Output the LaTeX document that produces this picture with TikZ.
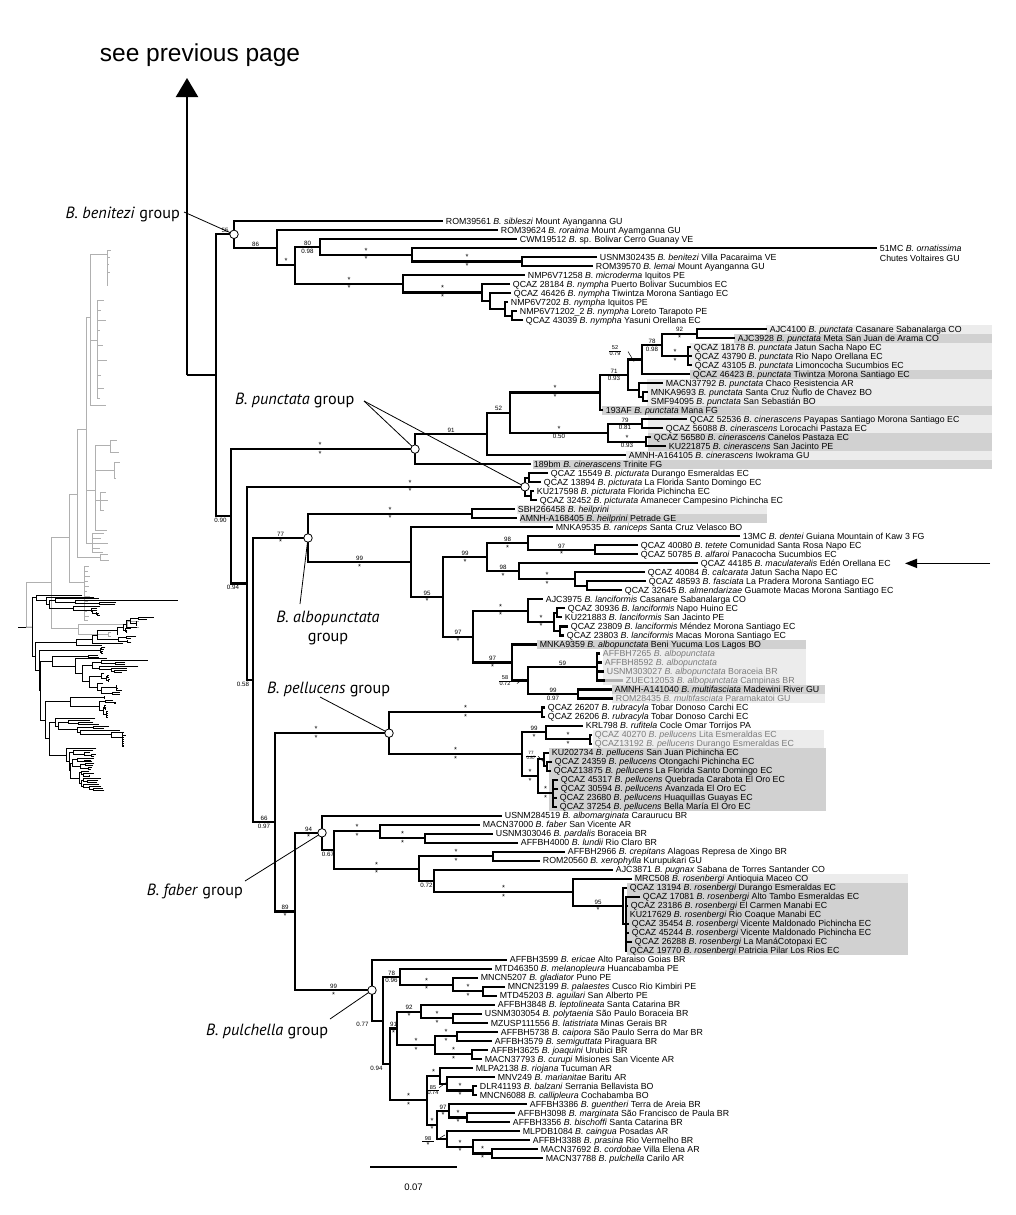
\documentclass[tikz,border=0pt]{standalone}
\usepackage{fontspec}
\setmainfont{Liberation Sans}
\newfontfamily\grpfont{PT Sans}
\usetikzlibrary{calc,arrows.meta}
\definecolor{lbox}{HTML}{ECECEC}
\definecolor{dbox}{HTML}{D1D1D1}
\definecolor{gtxt}{HTML}{7C7C7C}
\definecolor{gbr}{HTML}{B0B0B0}
\newcommand\Sp[1]{\textit{#1}}
\newcommand\stt{{\fontsize{7.5}{7.5}\selectfont *}}
\newcommand\tp[3]{\coordinate (#1) at (#2,{221+9.01*#3});}
\newcommand\nd[4]{%
  \coordinate (X#1) at (#2,0);%
  \coordinate (M#1) at ($(#3)!.5!(#4)$);%
  \coordinate (#1) at (X#1 |- M#1);%
  \draw[br] (#3) -| (#1);%
  \draw[br] (#4) -| (#1);}
\newcommand\ndm[5]{%
  \nd{#1}{#2}{#3}{#4}%
  \foreach \ch in {#5} {\draw[br] (\ch) -| (#1);}}
\newcommand\lab[5][0]{%
  \coordinate (C#2) at ($(#2)!.5!(#3 |- #2)+(#1,0)$);%
  \node[sa,anchor=south] (U#2) at ($(C#2)+(0,-1.1)$) {#4};%
  \node[sa,anchor=north] (D#2) at ($(C#2)+(0,1.3)$) {#5};}
\newcommand\sst[3][0]{\lab[#1]{#2}{#3}{\stt}{\stt}}
\newcommand\tl[2]{\node[tl] (l#1) at (t#1) {#2};}
\newcommand\tlg[2]{\node[tl,text=gtxt] (l#1) at (t#1) {#2};}
\newcommand\bx[5]{\fill[#5] (#1,{221+9.01*#3-4.4}) rectangle (#2,{221+9.01*#4+4.4});}

\newcommand\treebody{%
\tp{t0}{443}{0}\tp{t1}{498}{1}\tp{t2}{517}{2}\tp{t3}{877}{3}%
\tp{t4}{597}{4}\tp{t5}{593}{5}\tp{t6}{525}{6}\tp{t7}{510}{7}%
\tp{t8}{511}{8}\tp{t9}{508}{9}\tp{t10}{517}{10}\tp{t11}{523}{11}%
\nd{nBL}{522}{t4}{t5}\nd{nO}{412}{t3}{nBL}\nd{n80}{320}{t2}{nO}%
\nd{nN4}{512}{t10}{t11}\nd{nN3}{505}{t9}{nN4}\nd{nN2}{490}{t8}{nN3}%
\nd{nN1}{482}{t7}{nN2}\nd{nM}{403}{t6}{nN1}\nd{n95}{295}{n80}{nM}%
\nd{n86}{277}{t1}{n95}\nd{nB}{234}{t0}{n86}%
\tp{t12}{767}{12}\tp{t13}{735}{13}\tp{t14}{691}{14}\tp{t15}{692}{15}\tp{t16}{692}{16}%
\tp{t17}{690}{17}\tp{t18}{663}{18}\tp{t19}{648}{19}\tp{t20}{648}{20}\tp{t21}{603}{21}%
\tp{t22}{687}{22}\tp{t23}{663}{23}\tp{t24}{651}{24}\tp{t25}{666}{25}\tp{t26}{626}{26}\tp{t27}{531}{27}%
\nd{P92}{697}{t12}{t13}\ndm{Pq}{688}{t14}{t16}{t15}\nd{Pc}{662}{P92}{Pq}%
\nd{Pb}{642}{Pc}{t17}\nd{Pn}{643}{t19}{t20}\nd{Pm}{639}{t18}{Pn}%
\nd{Pa}{628}{Pb}{Pm}\nd{Ppu}{600}{Pa}{t21}%
\nd{C79}{642}{t22}{t23}\nd{C93}{646}{t24}{t25}\nd{Pci}{608}{C79}{C93}%
\nd{P52}{510}{Ppu}{Pci}\nd{P91}{487}{P52}{t26}\nd{P0}{415}{P91}{t27}%
\tp{t28}{548}{28}\tp{t29}{541}{29}\tp{t30}{534}{30}\tp{t31}{537}{31}%
\nd{PicA}{529}{t28}{t29}\nd{PicB}{531}{t30}{t31}\nd{Pic}{525}{PicA}{PicB}%
\tp{t32}{515}{32}\tp{t33}{517}{33}\nd{Ah}{472}{t32}{t33}%
\tp{t34}{553}{34}\tp{t35}{740}{35}\tp{t36}{638}{36}\tp{t37}{638}{37}%
\nd{A97a}{595}{t36}{t37}\nd{A98a}{528}{t35}{A97a}%
\tp{t38}{698}{38}\tp{t39}{645}{39}\tp{t40}{646}{40}\tp{t41}{622}{41}%
\nd{Afas}{587}{t40}{t41}\nd{Acal}{575}{t39}{Afas}\nd{A98b}{519}{t38}{Acal}%
\nd{A99b}{487}{A98a}{A98b}%
\tp{t42}{543}{42}\tp{t43}{565}{43}\tp{t44}{562}{44}\tp{t45}{568}{45}\tp{t46}{564}{46}%
\nd{L1}{557}{t43}{t44}\nd{L2}{560}{t45}{t46}\nd{Alan2}{554}{L1}{L2}\nd{Alan}{528}{t42}{Alan2}%
\tp{t47}{537}{47}\tp{t48}{600}{48}\tp{t49}{602}{49}\tp{t50}{604}{50}\tp{t51}{623}{51}%
\ndm{A59}{597}{t48}{t51}{t49,t50}%
\tp{t52}{612}{52}\tp{t53}{613}{53}\nd{A99c}{578}{t52}{t53}%
\nd{A58}{528}{A59}{A99c}\nd{A97b}{512}{t47}{A58}\nd{A97}{473}{Alan}{A97b}%
\nd{A95}{443}{A99b}{A97}\nd{A99}{411}{t34}{A95}\nd{Aalb}{308}{Ah}{A99}%
\tp{t54}{545}{54}\tp{t55}{545}{55}\nd{Rub}{542}{t54}{t55}%
\tp{t56}{583}{56}\tp{t57}{592}{57}\tp{t58}{592}{58}\nd{Pl2}{590}{t57}{t58}\nd{P99}{546}{t56}{Pl2}%
\tp{t59}{549}{59}\tp{t60}{552}{60}\tp{t61}{551}{61}\nd{PelE}{547}{t60}{t61}\nd{PelC}{544}{t59}{PelE}%
\tp{t62}{558}{62}\tp{t63}{558}{63}\tp{t64}{557}{64}\tp{t65}{557}{65}\ndm{PelD}{553}{t62}{t65}{t63,t64}%
\nd{PelB}{538}{PelC}{PelD}\nd{Pel}{522}{P99}{PelB}\nd{Ppel}{389}{Rub}{Pel}%
\tp{t66}{502}{66}\tp{t67}{480}{67}\tp{t68}{493}{68}\tp{t69}{518}{69}%
\nd{Fd}{425}{t68}{t69}\nd{Fc}{380}{t67}{Fd}%
\tp{t70}{565}{70}\tp{t71}{540}{71}\nd{Ff}{493}{t70}{t71}%
\tp{t72}{613}{72}\tp{t73}{632}{73}\tp{t74}{627}{74}\tp{t75}{640}{75}\tp{t76}{628}{76}%
\tp{t77}{627}{77}\tp{t78}{629}{78}\tp{t79}{629}{79}\tp{t80}{632}{80}\tp{t81}{627}{81}%
\ndm{Fr2}{626}{t75}{t81}{t76,t77,t78,t79,t80}\nd{Fr}{623}{t74}{Fr2}%
\nd{Fh}{573}{t73}{Fr}\nd{Fg}{434}{t72}{Fh}\nd{Fe}{419}{Ff}{Fg}%
\nd{Fb}{334}{Fc}{Fe}\nd{Ffab}{322}{t66}{Fb}%
\tp{t82}{507}{82}\tp{t83}{492}{83}\tp{t84}{478}{84}\tp{t85}{505}{85}\tp{t86}{497}{86}%
\nd{Qh}{483}{t85}{t86}\nd{Qg}{453}{t84}{Qh}\nd{Q78}{400}{t83}{Qg}%
\tp{t87}{495}{87}\tp{t88}{482}{88}\tp{t89}{488}{89}\nd{Qi}{453}{t88}{t89}\nd{Q92}{421}{t87}{Qi}%
\tp{t90}{498}{90}\tp{t91}{492}{91}\nd{Qd}{457}{t90}{t91}%
\tp{t92}{488}{92}\tp{t93}{482}{93}\nd{Qe}{472}{t92}{t93}\nd{Qc}{435}{Qd}{Qe}%
\nd{Q91}{397}{Q92}{Qc}%
\tp{t94}{473}{94}\tp{t95}{495}{95}\tp{t96}{477}{96}\tp{t97}{477}{97}%
\nd{Qw}{473}{t96}{t97}\nd{Qv}{447}{t95}{Qw}\nd{Qt}{440}{t94}{Qv}%
\tp{t98}{527}{98}\tp{t99}{515}{99}\tp{t100}{510}{100}\nd{Qx}{467}{t99}{t100}\nd{Q97}{449}{t98}{Qx}%
\tp{t101}{520}{101}\tp{t102}{530}{102}\tp{t103}{538}{103}\tp{t104}{543}{104}%
\nd{Qz}{492}{t103}{t104}\nd{Qy}{473}{t102}{Qz}\nd{Q98}{447}{t101}{Qy}%
\nd{Qu}{437}{Q97}{Q98}\nd{Qs}{427}{Qt}{Qu}\nd{Qb}{390}{Q91}{Qs}%
\nd{Qa}{383}{Q78}{Qb}\nd{Qpul}{372}{t82}{Qa}%
\nd{N6}{295}{Ffab}{Qpul}\nd{N5}{275}{Ppel}{N6}\nd{N4}{253}{Aalb}{N5}%
\nd{N3}{247}{Pic}{N4}\nd{N2}{231}{P0}{N3}\nd{N1}{216}{nB}{N2}%
\coordinate (Rx) at (187,0);\coordinate (R) at (Rx |- N1);\draw[br] (N1) -- (R);%
}

\tikzset{
 br/.style={line width=2.1pt},
 tl/.style={anchor=base west, inner sep=0.5pt, xshift=2.2pt, yshift=-3.1pt, font=\fontsize{8.8}{9}\selectfont},
 sa/.style={inner sep=0.3pt, font=\fontsize{6.2}{6.2}\selectfont},
 gc/.style={circle, draw, fill=white, line width=0.8pt, inner sep=0pt, minimum size=8.5pt},
 gl/.style={font=\grpfont\fontsize{16.2}{18}\selectfont, inner sep=0pt},
 ld/.style={line width=0.8pt},
 fr/.style={inner sep=0.3pt, font=\fontsize{5.6}{5.6}\selectfont},
}

\begin{document}
\begin{tikzpicture}[x=1pt,y=-1pt]
\fill[white] (0,0) rectangle (1015,1215);
\useasboundingbox (0,0) rectangle (1015,1215);

% ---------- thumbnail of whole tree ----------
\draw[gbr, line width=0.8pt]
 (26,582) -- (26,627)
 (26,582) -- (51,582) (51,537) -- (51,628)
 (51,628) -- (78,628) (78,624) -- (78,634) (78,624) -- (127,624)
 (127,621) -- (127,627) (127,621) -- (139,621) (127,627) -- (139,627)
 (78,634) -- (108,634) (108,632) -- (108,636) (108,632) -- (111,632) (108,636) -- (111,636)
 (51,537) -- (69,537) (69,494) -- (69,582)
 (69,582) -- (84,582) (84,566) -- (84,620)
 (84,566) -- (89,566) (84,571) -- (88,571) (84,576) -- (90,576) (84,581) -- (88,581)
 (84,586) -- (89,586) (84,591) -- (87,591) (84,596) -- (90,596) (84,601) -- (88,601)
 (84,606) -- (89,606) (84,611) -- (87,611) (84,616) -- (89,616) (84,620) -- (88,620)
 (69,494) -- (77,494) (77,429) -- (77,557)
 (77,557) -- (100,557) (100,554) -- (100,560) (100,554) -- (108,554) (100,560) -- (109,560)
 (77,429) -- (86,429) (86,317) -- (86,543)
 (86,543) -- (92,543) (92,533) -- (92,552)
 (92,533) -- (104,533) (92,538) -- (101,538) (92,543) -- (108,543) (92,548) -- (100,548) (92,552) -- (103,552)
 (86,490) -- (95,490) (95,445) -- (95,530)
 (95,445) -- (110,445) (110,440) -- (110,452) (110,440) -- (117,440) (110,452) -- (119,452)
 (95,470) -- (114,470) (114,462) -- (114,478) (114,462) -- (120,462) (114,478) -- (116,478)
 (95,500) -- (100,500) (100,492) -- (100,510) (100,492) -- (106,492) (100,500) -- (108,500) (100,510) -- (104,510)
 (95,530) -- (107,530)
 (86,317) -- (90,317) (90,254) -- (90,405)
 (90,254) -- (107,254) (107,250) -- (107,285)
 (107,250) -- (111,250) (107,257) -- (110,257) (107,264) -- (109,264) (107,272) -- (110,272) (107,285) -- (108,285)
 (90,340) -- (97,340) (97,300) -- (97,398)
 (97,300) -- (104,300) (97,310) -- (101,310) (97,320) -- (106,320) (97,330) -- (100,330)
 (97,345) -- (103,345) (97,360) -- (107,360) (97,375) -- (101,375) (97,388) -- (104,388) (97,398) -- (100,398)
 (90,405) -- (106,405);
\draw[line width=0.7pt] (18,627) -- (26,627);
\begin{scope}[shift={(-15.14,549.03)}, xscale=0.22, yscale=0.208]
 \tikzset{br/.style={line width=0.6pt}}
 \treebody
\end{scope}

% ---------- shaded label boxes ----------
\bx{766}{992}{12}{12}{lbox}
\bx{734}{992}{13}{13}{dbox}
\bx{690}{992}{14}{16}{lbox}
\bx{690}{992}{17}{17}{dbox}
\bx{647}{992}{18}{20}{lbox}
\bx{602}{992}{21}{21}{dbox}
\bx{648}{992}{22}{23}{lbox}
\bx{648}{992}{24}{25}{dbox}
\bx{626}{992}{26}{26}{lbox}
\bx{533}{992}{27}{27}{dbox}
\bx{517}{767}{32}{32}{lbox}
\bx{520}{767}{33}{33}{dbox}
\bx{537}{806}{47}{47}{dbox}
\bx{603}{806}{48}{51}{lbox}
\bx{612}{825}{52}{52}{dbox}
\bx{612}{825}{53}{53}{lbox}
\bx{593}{824}{57}{58}{lbox}
\bx{549}{826}{59}{65}{dbox}
\bx{634}{908}{73}{73}{lbox}
\bx{627}{908}{74}{81}{dbox}

% ---------- main tree ----------
\treebody
\coordinate (zg) at ($(t51)+(-18,0)$);
\draw[br,gbr] (zg) -- (t51);

% arrow to previous page
\coordinate (arrT) at (187,78);
\draw[line width=2.1pt,-{Triangle[width=22pt,length=19pt]}] (R) -- (arrT);
\node[font=\fontsize{24.5}{26}\selectfont, inner sep=0pt] (title) at (200,55) {see previous page};

% ---------- support values ----------
\lab{nB}{N1}{55}{}
\lab{n86}{nB}{86}{}
\lab{n95}{n86}{\stt}{}
\lab{n80}{n95}{80}{0.98}
\sst{nO}{n80}
\sst{nBL}{nO}
\sst{nM}{n95}
\sst{nN1}{nM}
\sst[-3]{P0}{N2}
\lab{P91}{P0}{91}{}
\lab{P52}{P91}{52}{}
\sst{Ppu}{P52}
\lab{Pci}{P52}{\stt}{0.50}
\lab{Pa}{Ppu}{71}{0.93}
\lab{Pc}{Pb}{78}{0.98}
\lab{P92}{Pc}{92}{\stt}
\sst{Pq}{Pc}
\lab{C79}{Pci}{79}{0.81}
\lab{C93}{Pci}{\stt}{0.93}
\sst[24]{Pic}{N3}
\lab[-3]{N2}{N1}{}{0.90}
\lab[-6]{N3}{N2}{}{0.94}
\lab[-7]{N4}{N3}{}{0.58}
\lab{N5}{N4}{66}{0.97}
\lab{N6}{N5}{89}{\stt}
\lab{Aalb}{N4}{77}{\stt}
\sst{Ah}{Aalb}
\lab{A99}{Aalb}{99}{\stt}
\lab{A95}{A99}{95}{\stt}
\lab{A99b}{A95}{99}{\stt}
\lab{A98a}{A99b}{98}{\stt}
\lab{A97a}{A98a}{97}{\stt}
\lab{A98b}{A99b}{98}{\stt}
\sst{Acal}{A98b}
\lab{A97}{A95}{97}{\stt}
\sst{Alan}{A97}
\sst{Alan2}{Alan}
\lab{A97b}{A97}{97}{\stt}
\lab{A59}{A58}{59}{}
\lab{A99c}{A58}{99}{0.97}
\sst[-16]{Ppel}{N5}
\sst{Rub}{Ppel}
\sst{Pel}{Ppel}
\lab{P99}{Pel}{99}{\stt}
\sst{Pl2}{P99}
\sst{PelB}{Pel}
\sst{PelD}{PelB}
\lab{Ffab}{N6}{94}{\stt}
\lab{Fb}{Ffab}{}{0.67}
\sst{Fc}{Fb}
\sst{Fd}{Fc}
\sst{Fe}{Fb}
\sst{Ff}{Fe}
\lab{Fg}{Fe}{}{0.72}
\sst{Fh}{Fg}
\lab{Fr}{Fh}{95}{\stt}
\lab{Qpul}{N6}{99}{\stt}
\lab[-15]{Qa}{Qpul}{}{0.77}
\lab{Q78}{Qa}{78}{0.96}
\sst{Qg}{Q78}
\sst{Qh}{Qg}
\lab[-10]{Qb}{Qa}{}{0.94}
\lab{Q91}{Qb}{91}{\stt}
\lab{Q92}{Q91}{92}{\stt}
\sst{Qi}{Q92}
\sst{Qc}{Q91}
\sst{Qd}{Qc}
\sst{Qe}{Qc}
\sst{Qs}{Qb}
\lab{Qt}{Qs}{\stt}{}
\sst{Qw}{Qv}
\sst{Qu}{Qs}
\lab{Q97}{Qu}{97}{\stt}
\sst{Qx}{Q97}
\sst{Qy}{Q98}
\sst{Qz}{Qy}

% fraction-style labels with leaders
\coordinate (fPb) at ($(Pb)+(-27,-9)$);
\node[fr,anchor=south] (fPbU) at (fPb) {52};
\node[fr,anchor=north] (fPbD) at ($(fPb)+(0,0.8)$) {0.79};
\draw[line width=0.4pt] ($(fPb)+(-6,0.4)$) -- ($(fPb)+(6,0.4)$);
\draw[line width=0.5pt] ($(Pb)+(-14,-8)$) -- ($(Pb)+(-8,2)$);
\coordinate (fA58) at ($(A58)+(-23,0)$);
\node[fr,anchor=south] (fA58U) at (fA58) {58};
\node[fr,anchor=north] (fA58D) at ($(fA58)+(0,0.8)$) {0.72};
\draw[line width=0.4pt] ($(fA58)+(-6,0.4)$) -- ($(fA58)+(6,0.4)$);
\draw[line width=0.5pt] ($(A58)+(-11,3)$) -- ($(A58)+(-5,-1.5)$);
\coordinate (fPelC) at ($(PelC)+(-13,-4)$);
\node[fr,anchor=south,font=\fontsize{4.6}{4.6}\selectfont] (fPelCU) at (fPelC) {77};
\node[fr,anchor=north,font=\fontsize{4.6}{4.6}\selectfont] (fPelCD) at ($(fPelC)+(0,0.7)$) {0.87};
\draw[line width=0.3pt] ($(fPelC)+(-5,0.35)$) -- ($(fPelC)+(5,0.35)$);
\draw[line width=0.5pt] ($(PelC)+(-6,-3)$) -- ($(PelC)+(-1,2)$);
\coordinate (fQv) at ($(Qv)+(-14,6)$);
\node[fr,anchor=south] (fQvU) at (fQv) {85};
\node[fr,anchor=north] (fQvD) at ($(fQv)+(0,0.8)$) {0.74};
\draw[line width=0.4pt] ($(fQv)+(-6,0.4)$) -- ($(fQv)+(6,0.4)$);
\draw[line width=0.5pt] ($(Qv)+(-8,4)$) -- ($(Qv)+(-1,-1)$);
\coordinate (fQ98) at ($(Q98)+(-19,2)$);
\node[fr,anchor=south] (fQ98U) at (fQ98) {98};
\node[sa,anchor=north] (fQ98D) at ($(fQ98)+(0,1)$) {\stt};
\draw[line width=0.4pt] ($(fQ98)+(-6,0.4)$) -- ($(fQ98)+(6,0.4)$);
\draw[line width=0.5pt] ($(Q98)+(-10,1)$) -- ($(Q98)+(-2,-4)$);

% ---------- tip labels ----------
\tl{0}{ROM39561 \Sp{B. sibleszi} Mount Ayanganna GU}
\tl{1}{ROM39624 \Sp{B. roraima} Mount Ayamganna GU}
\tl{2}{CWM19512 \Sp{B.} sp. Bolivar Cerro Guanay VE}
\tl{3}{51MC \Sp{B. ornatissima}}
\node[tl] (l3b) at ($(t3)+(0,10)$) {Chutes Voltaires GU};
\tl{4}{USNM302435 \Sp{B. benitezi} Villa Pacaraima VE}
\tl{5}{ROM39570 \Sp{B. lemai} Mount Ayanganna GU}
\tl{6}{NMP6V71258 \Sp{B. microderma} Iquitos PE}
\tl{7}{QCAZ 28184 \Sp{B. nympha} Puerto Bolivar Sucumbios EC}
\tl{8}{QCAZ 46426 \Sp{B. nympha} Tiwintza Morona Santiago EC}
\tl{9}{NMP6V7202 \Sp{B. nympha} Iquitos PE}
\tl{10}{NMP6V71202\_2 \Sp{B. nympha} Loreto Tarapoto PE}
\tl{11}{QCAZ 43039 \Sp{B. nympha} Yasuni Orellana EC}
\tl{12}{AJC4100 \Sp{B. punctata} Casanare Sabanalarga CO}
\tl{13}{AJC3928 \Sp{B. punctata} Meta San Juan de Arama CO}
\tl{14}{QCAZ 18178 \Sp{B. punctata} Jatun Sacha Napo EC}
\tl{15}{QCAZ 43790 \Sp{B. punctata} Rio Napo Orellana EC}
\tl{16}{QCAZ 43105 \Sp{B. punctata} Limoncocha Sucumbios EC}
\tl{17}{QCAZ 46423 \Sp{B. punctata} Tiwintza Morona Santiago EC}
\tl{18}{MACN37792 \Sp{B. punctata} Chaco Resistencia AR}
\tl{19}{MNKA9693 \Sp{B. punctata} Santa Cruz Ñuflo de Chavez BO}
\tl{20}{SMF94095 \Sp{B. punctata} San Sebastián BO}
\tl{21}{193AF \Sp{B. punctata} Mana FG}
\tl{22}{QCAZ 52536 \Sp{B. cinerascens} Payapas Santiago Morona Santiago EC}
\tl{23}{QCAZ 56088 \Sp{B. cinerascens} Lorocachi Pastaza EC}
\tl{24}{QCAZ 56580 \Sp{B. cinerascens} Canelos Pastaza EC}
\tl{25}{KU221875 \Sp{B. cinerascens} San Jacinto PE}
\tl{26}{AMNH-A164105 \Sp{B. cinerascens} Iwokrama GU}
\tl{27}{189bm \Sp{B. cinerascens} Trinite FG}
\tl{28}{QCAZ 15549 \Sp{B. picturata} Durango Esmeraldas EC}
\tl{29}{QCAZ 13894 \Sp{B. picturata} La Florida Santo Domingo EC}
\tl{30}{KU217598 \Sp{B. picturata} Florida Pichincha EC}
\tl{31}{QCAZ 32452 \Sp{B. picturata} Amanecer Campesino Pichincha EC}
\tl{32}{SBH266458 \Sp{B. heilprini}}
\tl{33}{AMNH-A168405 \Sp{B. heilprini} Petrade GE}
\tl{34}{MNKA9535 \Sp{B. raniceps} Santa Cruz Velasco BO}
\tl{35}{13MC \Sp{B. dentei} Guiana Mountain of Kaw 3 FG}
\tl{36}{QCAZ 40080 \Sp{B. tetete} Comunidad Santa Rosa Napo EC}
\tl{37}{QCAZ 50785 \Sp{B. alfaroi} Panacocha Sucumbios EC}
\tl{38}{QCAZ 44185 \Sp{B. maculateralis} Edén Orellana EC}
\tl{39}{QCAZ 40084 \Sp{B. calcarata} Jatun Sacha Napo EC}
\tl{40}{QCAZ 48593 \Sp{B. fasciata} La Pradera Morona Santiago EC}
\tl{41}{QCAZ 32645 \Sp{B. almendarizae} Guamote Macas Morona Santiago EC}
\tl{42}{AJC3975 \Sp{B. lanciformis} Casanare Sabanalarga CO}
\tl{43}{QCAZ 30936 \Sp{B. lanciformis} Napo Huino EC}
\tl{44}{KU221883 \Sp{B. lanciformis} San Jacinto PE}
\tl{45}{QCAZ 23809 \Sp{B. lanciformis} Méndez Morona Santiago EC}
\tl{46}{QCAZ 23803 \Sp{B. lanciformis} Macas Morona Santiago EC}
\tl{47}{MNKA9359 \Sp{B. albopunctata} Beni Yucuma Los Lagos BO}
\tlg{48}{AFFBH7265 \Sp{B. albopunctata}}
\tlg{49}{AFFBH8592 \Sp{B. albopunctata}}
\tlg{50}{USNM303027 \Sp{B. albopunctata} Boraceia BR}
\tlg{51}{ZUEC12053 \Sp{B. albopunctata} Campinas BR}
\tl{52}{AMNH-A141040 \Sp{B. multifasciata} Madewini River GU}
\tlg{53}{ROM28435 \Sp{B. multifasciata} Paramakatoi GU}
\tl{54}{QCAZ 26207 \Sp{B. rubracyla} Tobar Donoso Carchi EC}
\tl{55}{QCAZ 26206 \Sp{B. rubracyla} Tobar Donoso Carchi EC}
\tl{56}{KRL798 \Sp{B. rufitela} Cocle Omar Torrijos PA}
\tlg{57}{QCAZ 40270 \Sp{B. pellucens} Lita Esmeraldas EC}
\tlg{58}{QCAZ13192 \Sp{B. pellucens} Durango Esmeraldas EC}
\tl{59}{KU202734 \Sp{B. pellucens} San Juan Pichincha EC}
\tl{60}{QCAZ 24359 \Sp{B. pellucens} Otongachi Pichincha EC}
\tl{61}{QCAZ13875 \Sp{B. pellucens} La Florida Santo Domingo EC}
\tl{62}{QCAZ 45317 \Sp{B. pellucens} Quebrada Carabota El Oro EC}
\tl{63}{QCAZ 30594 \Sp{B. pellucens} Avanzada El Oro EC}
\tl{64}{QCAZ 23680 \Sp{B. pellucens} Huaquillas Guayas EC}
\tl{65}{QCAZ 37254 \Sp{B. pellucens} Bella María El Oro EC}
\tl{66}{USNM284519 \Sp{B. albomarginata} Caraurucu BR}
\tl{67}{MACN37000 \Sp{B. faber} San Vicente AR}
\tl{68}{USNM303046 \Sp{B. pardalis} Boraceia BR}
\tl{69}{AFFBH4000 \Sp{B. lundii} Rio Claro BR}
\tl{70}{AFFBH2966 \Sp{B. crepitans} Alagoas Represa de Xingo BR}
\tl{71}{ROM20560 \Sp{B. xerophylla} Kurupukari GU}
\tl{72}{AJC3871 \Sp{B. pugnax} Sabana de Torres Santander CO}
\tl{73}{MRC508 \Sp{B. rosenbergi} Antioquia Maceo CO}
\tl{74}{QCAZ 13194 \Sp{B. rosenbergi} Durango Esmeraldas EC}
\tl{75}{QCAZ 17081 \Sp{B. rosenbergi} Alto Tambo Esmeraldas EC}
\tl{76}{QCAZ 23186 \Sp{B. rosenbergi} El Carmen Manabi EC}
\tl{77}{KU217629 \Sp{B. rosenbergi} Rio Coaque Manabi EC}
\tl{78}{QCAZ 35454 \Sp{B. rosenbergi} Vicente Maldonado Pichincha EC}
\tl{79}{QCAZ 45244 \Sp{B. rosenbergi} Vicente Maldonado Pichincha EC}
\tl{80}{QCAZ 26288 \Sp{B. rosenbergi} La ManáCotopaxi EC}
\tl{81}{QCAZ 19770 \Sp{B. rosenbergi} Patricia Pilar Los Rios EC}
\tl{82}{AFFBH3599 \Sp{B. ericae} Alto Paraiso Goias BR}
\tl{83}{MTD46350 \Sp{B. melanopleura} Huancabamba PE}
\tl{84}{MNCN5207 \Sp{B. gladiator} Puno PE}
\tl{85}{MNCN23199 \Sp{B. palaestes} Cusco Rio Kimbiri PE}
\tl{86}{MTD45203 \Sp{B. aguilari} San Alberto PE}
\tl{87}{AFFBH3848 \Sp{B. leptolineata} Santa Catarina BR}
\tl{88}{USNM303054 \Sp{B. polytaenia} São Paulo Boraceia BR}
\tl{89}{MZUSP111556 \Sp{B. latistriata} Minas Gerais BR}
\tl{90}{AFFBH5738 \Sp{B. caipora} São Paulo Serra do Mar BR}
\tl{91}{AFFBH3579 \Sp{B. semiguttata} Piraguara BR}
\tl{92}{AFFBH3625 \Sp{B. joaquini} Urubici BR}
\tl{93}{MACN37793 \Sp{B. curupi} Misiones San Vicente AR}
\tl{94}{MLPA2138 \Sp{B. riojana} Tucuman AR}
\tl{95}{MNV249 \Sp{B. marianitae} Baritu AR}
\tl{96}{DLR41193 \Sp{B. balzani} Serrania Bellavista BO}
\tl{97}{MNCN6088 \Sp{B. callipleura} Cochabamba BO}
\tl{98}{AFFBH3386 \Sp{B. guentheri} Terra de Areia BR}
\tl{99}{AFFBH3098 \Sp{B. marginata} São Francisco de Paula BR}
\tl{100}{AFFBH3356 \Sp{B. bischoffi} Santa Catarina BR}
\tl{101}{MLPDB1084 \Sp{B. caingua} Posadas AR}
\tl{102}{AFFBH3388 \Sp{B. prasina} Rio Vermelho BR}
\tl{103}{MACN37692 \Sp{B. cordobae} Villa Elena AR}
\tl{104}{MACN37788 \Sp{B. pulchella} Carilo AR}

% arrow to B. maculateralis
\coordinate (mAx) at (990,0); \coordinate (mA) at (mAx |- t38);
\coordinate (mBx) at (905,0); \coordinate (mB) at (mBx |- t38);
\draw[line width=1.6pt,-{Triangle[width=9pt,length=12pt]}] (mA) -- (mB);

% ---------- group labels ----------
\node[gl,anchor=base east] (gBen) at (180,218.5) {\textit{B. benitezi} group};
\node[gl,anchor=base west] (gPun) at (235,404) {\textit{B. punctata} group};
\node[gl,anchor=base] (gAlb1) at (328,622) {\textit{B. albopunctata}};
\node[gl,anchor=base] (gAlb2) at (328,641) {group};
\node[gl,anchor=base west] (gPel) at (267,693) {\textit{B. pellucens} group};
\node[gl,anchor=base east] (gFab) at (243,895) {\textit{B. faber} group};
\node[gl,anchor=base west] (gPul) at (206,1035) {\textit{B. pulchella} group};
\coordinate (kBen) at (184,212);
\coordinate (kPun) at (364,401);
\coordinate (kAlb) at (300,604);
\coordinate (kPel) at (320,697);
\coordinate (kFab) at (245,881);
\coordinate (kPul) at (330,1019);
\draw[ld] (kBen) -- (nB);
\draw[ld] (kPun) -- (P0);
\draw[ld] (kPun) -- (Pic);
\draw[ld] (kAlb) -- (Aalb);
\draw[ld] (kPel) -- (Ppel);
\draw[ld] (kFab) -- (Ffab);
\draw[ld] (kPul) -- (Qpul);
\node[gc] (cBen) at (nB) {};
\node[gc] (cPun) at (P0) {};
\node[gc] (cPic) at (Pic) {};
\node[gc] (cAlb) at (Aalb) {};
\node[gc] (cPel) at (Ppel) {};
\node[gc] (cFab) at (Ffab) {};
\node[gc] (cPul) at (Qpul) {};

% ---------- scale bar ----------
\coordinate (sbL) at (370,1167);
\coordinate (sbR) at (457,1167);
\draw[line width=1.1pt] (sbL) -- (sbR);
\node[font=\fontsize{9.5}{10}\selectfont, anchor=base, inner sep=0pt] (sbT) at (413.5,1190) {0.07};
\end{tikzpicture}
\end{document}
